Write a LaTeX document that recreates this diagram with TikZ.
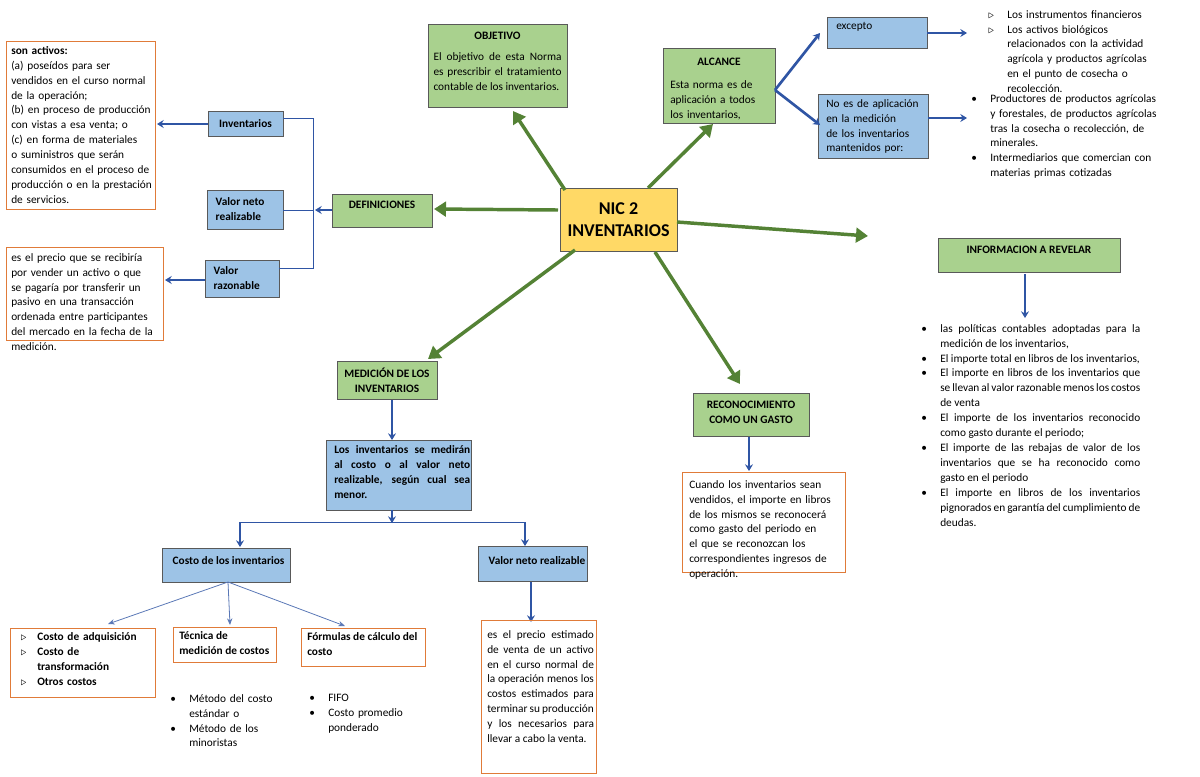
\documentclass[tikz,border=0pt]{standalone}
\usepackage{fontspec}
\setmainfont{Carlito}
\usetikzlibrary{arrows.meta}
\definecolor{gfill}{HTML}{A9D18E}
\definecolor{bfill}{HTML}{9DC3E6}
\definecolor{yfill}{HTML}{FFD966}
\definecolor{garrow}{HTML}{548235}
\definecolor{barrow}{HTML}{2F55A4}
\definecolor{ob}{HTML}{E07B39}
\begin{document}
\hyphenpenalty=10000 \exhyphenpenalty=10000
\begin{tikzpicture}[x=0.75pt,y=-0.75pt,
 tx/.style={font=\fontsize{8.5}{11.2}\selectfont},
 bt/.style={font=\fontsize{8.5}{11.2}\selectfont\bfseries},
 orng/.style={draw=ob,line width=0.6pt},
 ga/.style={draw=garrow,line width=2.6pt,-{Triangle[length=9pt,width=11pt]}},
 ba/.style={draw=barrow,line width=2pt,-{Stealth[length=5pt,width=6pt]}},
 bl/.style={draw=barrow,line width=0.7pt},
 ta/.style={draw=barrow!80,line width=0.6pt,-{Stealth[length=5pt,width=4pt]}},
 gb/.style={fill=gfill,draw=black!65},
 bb/.style={fill=bfill,draw=black!65}]
\useasboundingbox (0,0) rectangle (1200,776);
% son activos
\draw[orng] (6,41) rectangle (155,209);
\node[tx,anchor=north west,text width=106pt,align=left,inner sep=0pt] (son) at (11,46) {\textbf{son activos:}\\(a) poseídos para ser vendidos en el curso normal de la operación;\\(b) en proceso de producción con vistas a esa venta; o\\(c) en forma de materiales o suministros que serán consumidos en el proceso de producción o en la prestación de servicios.};
\coordinate (sonR) at (157,124);
% precio
\draw[orng] (6,247) rectangle (163,340);
\node[tx,anchor=north west,text width=112pt,align=left,inner sep=0pt] (pre) at (11,253) {es el precio que se recibiría por vender un activo o que se pagaría por transferir un pasivo en una transacción ordenada entre participantes del mercado en la fecha de la medición.};
\coordinate (preR) at (165,280);
% definitions
\draw[bb] (208,111) rectangle (283,136);
\node[bt] (inv) at (245.5,123.5) {Inventarios};
\draw[bb] (207,190) rectangle (283,229);
\node[bt,align=left,anchor=west] (vnr) at (211,209.5) {Valor neto\\realizable};
\draw[bb] (205,260) rectangle (279,297);
\node[bt,align=left,anchor=west] (vr) at (209,278.5) {Valor\\razonable};
\draw[gb] (332,194) rectangle (432,227);
\node[bt] (def) at (382,205) {DEFINICIONES};
\draw[bl] (283,118) -- (313,118) -- (313,268) -- (279,268);
\draw[bl] (283,210) -- (313,210);
\draw[ba,line width=1.6pt] (332,210) -- (315,210);
\draw[ba,line width=1.6pt] (208,124) -- (sonR);
\draw[ba,line width=1.6pt] (205,280) -- (preR);
% objetivo
\draw[gb] (428,24) rectangle (567,107);
\node[bt] (obj) at (497.5,36) {OBJETIVO};
\node[tx,text width=96pt,align=justify,anchor=north,inner sep=0pt] at (497.5,52) {El objetivo de esta Norma es prescribir el tratamiento contable de los inventarios.};
% NIC 2
\draw[fill=yfill,draw=black!65] (560,188) rectangle (677,251);
\node[font=\fontsize{13.5}{16.5}\selectfont\bfseries,align=center] (nic) at (618.5,219.5) {NIC 2\\INVENTARIOS};
% alcance
\draw[gb] (663,48) rectangle (775,123);
\node[bt] (alc) at (719,62) {ALCANCE};
\node[tx,text width=76pt,align=left,anchor=north west,inner sep=0pt] at (670,80) {Esta norma es de aplicación a todos los inventarios,};
% excepto, no es
\draw[bb] (827,17) rectangle (927,48);
\node[tx,anchor=north west,inner sep=0pt] (exc) at (836,22) {excepto};
\draw[bb] (818,94) rectangle (928,158);
\node[tx,anchor=north west,text width=76pt,align=left,inner sep=0pt] (noes) at (826,99) {No es de aplicación en la medición de los inventarios mantenidos por:};
\draw[ba] (775,90) -- (820,33);
\draw[ba] (775,90) -- (820,125);
\draw[ba] (927,33) -- (967,33);
\draw[ba] (928,118) -- (967,118);
\node[tx,anchor=north west,text width=117pt,align=left,inner sep=0pt] at (1007,10) {\makebox[0pt][r]{$\triangleright$\hspace{10pt}}Los instrumentos financieros\\\makebox[0pt][r]{$\triangleright$\hspace{10pt}}Los activos biológicos relacionados con la actividad agrícola y productos agrícolas en el punto de cosecha o recolección.};
\node[tx,anchor=north west,text width=135pt,align=left,inner sep=0pt] at (990,94) {\makebox[0pt][r]{\textbullet\hspace{10pt}}Productores de productos agrícolas y forestales, de productos agrícolas tras la cosecha o recolección, de minerales.\\\makebox[0pt][r]{\textbullet\hspace{10pt}}Intermediarios que comercian con materias primas cotizadas};
% informacion
\draw[gb] (938,238) rectangle (1120,272);
\node[bt] (info) at (1029,250) {INFORMACION A REVELAR};
\draw[ba] (1025,274) -- (1025,318);
\node[tx,anchor=north west,text width=150pt,align=justify,inner sep=0pt] (infl) at (940,324) {\makebox[0pt][r]{\textbullet\hspace{10pt}}las políticas contables adoptadas para la medición de los inventarios,\\\makebox[0pt][r]{\textbullet\hspace{10pt}}El importe total en libros de los inventarios,\\\makebox[0pt][r]{\textbullet\hspace{10pt}}El importe en libros de los inventarios que se llevan al valor razonable menos los costos de venta\\\makebox[0pt][r]{\textbullet\hspace{10pt}}El importe de los inventarios reconocido como gasto durante el periodo;\\\makebox[0pt][r]{\textbullet\hspace{10pt}}El importe de las rebajas de valor de los inventarios que se ha reconocido como gasto en el periodo\\\makebox[0pt][r]{\textbullet\hspace{10pt}}El importe en libros de los inventarios pignorados en garantía del cumplimiento de deudas.};
% medicion
\draw[gb] (337,361) rectangle (437,399);
\node[bt,align=center] (med) at (387,380) {MEDICIÓN DE LOS\\INVENTARIOS};
\draw[bb] (326,440) rectangle (471,510);
\node[bt,text width=102pt,align=justify,anchor=north west,inner sep=0pt] (lis) at (334,445) {Los inventarios se medirán al costo o al valor neto realizable, según cual sea menor.};
\draw[ba] (392,400) -- (392,440);
\draw[ba,line width=1.4pt] (392,510) -- (392,523);
\draw[bl] (240,522) -- (525,522);
\draw[ba,line width=1.4pt] (240,522) -- (240,547);
\draw[ba,line width=1.4pt] (525,522) -- (525,546);
\draw[bb] (162,548) rectangle (290,582);
\node[bt,anchor=west] (cdi) at (168,561) {Costo de los inventarios};
\draw[bb] (478,546) rectangle (587,581);
\node[bt,anchor=west] (vnr2) at (484,561) {Valor neto realizable};
\draw[ta] (228,582) -- (108,624);
\draw[ta] (228,582) -- (230,625);
\draw[ta] (228,582) -- (345,626);
\draw[ba] (531,582) -- (531,622);
\draw[orng] (10,628) rectangle (155,697);
\node[bt,anchor=north west,text width=80pt,align=left,inner sep=0pt] at (37,632) {\makebox[0pt][r]{$\triangleright$\hspace{8pt}}Costo de adquisición\\\makebox[0pt][r]{$\triangleright$\hspace{8pt}}Costo de transformación\\\makebox[0pt][r]{$\triangleright$\hspace{8pt}}Otros costos};
\draw[orng] (173,627) rectangle (276,662);
\node[bt,anchor=north west,align=left,inner sep=0pt] at (179,631) {Técnica de\\medición de costos};
\draw[orng] (301,628) rectangle (425,666);
\node[bt,anchor=north west,align=left,inner sep=0pt] at (307,632) {Fórmulas de cálculo del\\costo};
\node[tx,anchor=north west,text width=70pt,align=left,inner sep=0pt] at (189,694) {\makebox[0pt][r]{\textbullet\hspace{10pt}}Método del costo estándar o\\\makebox[0pt][r]{\textbullet\hspace{10pt}}Método de los minoristas};
\node[tx,anchor=north west,text width=62pt,align=left,inner sep=0pt] at (328,694) {\makebox[0pt][r]{\textbullet\hspace{10pt}}FIFO\\\makebox[0pt][r]{\textbullet\hspace{10pt}}Costo promedio ponderado};
\draw[orng] (481,620) rectangle (596,773);
\node[tx,anchor=north west,text width=80pt,align=justify,inner sep=0pt] at (487,630) {es el precio estimado de venta de un activo en el curso normal de la operación menos los costos estimados para terminar su producción y los necesarios para llevar a cabo la venta.};
% reconocimiento
\draw[gb] (693,393) rectangle (809,436);
\node[bt,align=center] (rec) at (751,412) {RECONOCIMIENTO\\COMO UN GASTO};
\draw[ba] (749,437) -- (749,471);
\draw[orng] (682,472) rectangle (845,572);
\node[tx,anchor=north west,text width=114pt,align=left,inner sep=0pt] at (689,480) {Cuando los inventarios sean vendidos, el importe en libros de los mismos se reconocerá como gasto del periodo en el que se reconozcan los correspondientes ingresos de operación.};
% green arrows
\draw[ga] (565,190) -- (513,111);
\draw[ga] (648,188) -- (713,124);
\draw[ga] (558,210) -- (434,209);
\draw[ga] (677,222) -- (868,236);
\draw[ga] (575,250) -- (428,359);
\draw[ga] (655,252) -- (740,384);
\end{tikzpicture}
\end{document}
